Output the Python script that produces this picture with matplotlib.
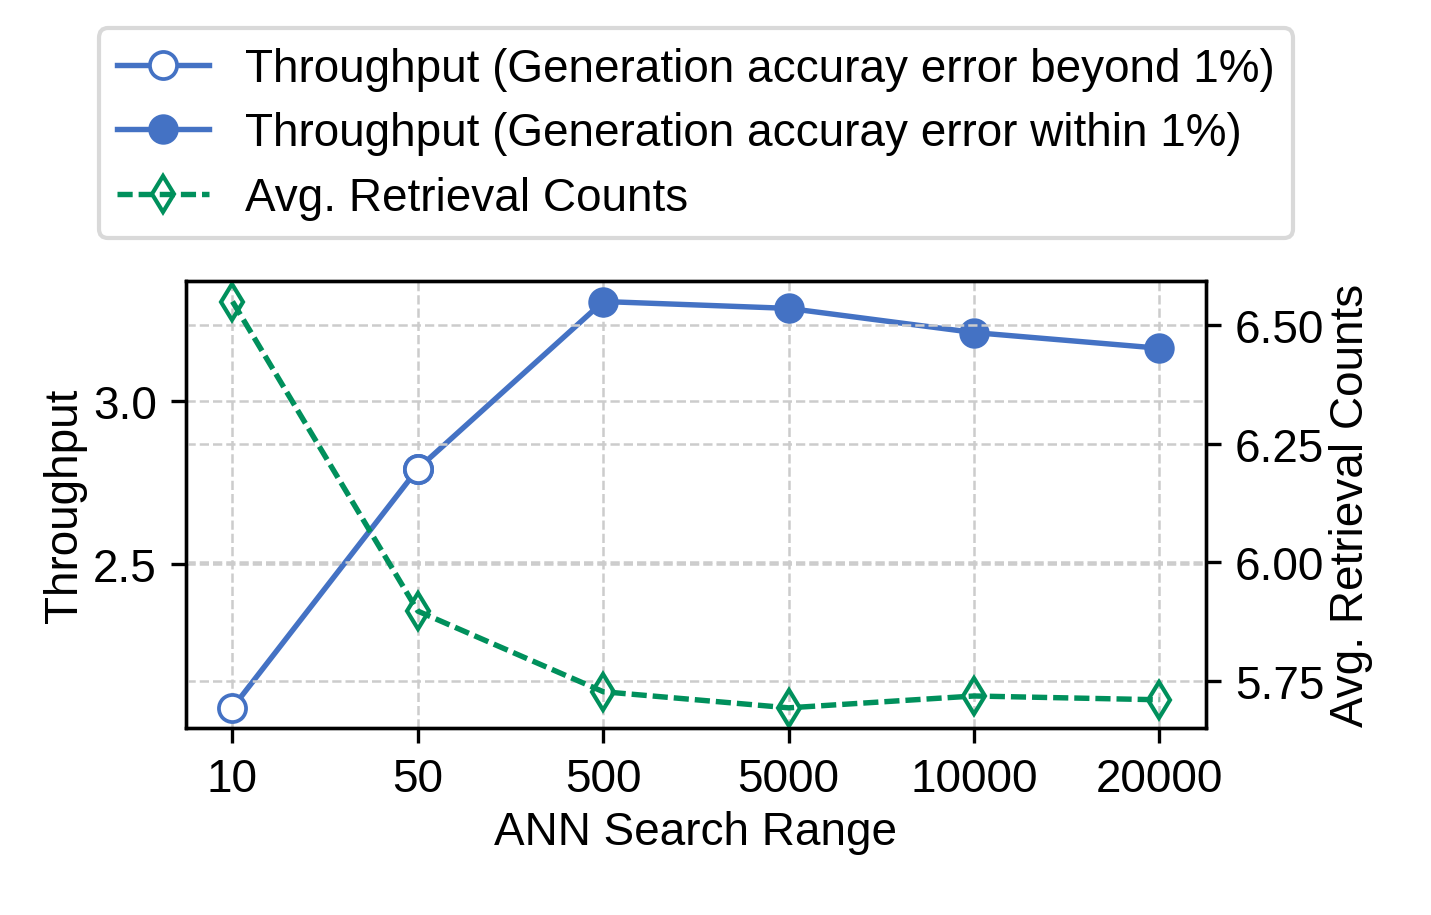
import matplotlib
matplotlib.use("Agg")
import matplotlib.pyplot as plt

plt.rcParams["font.family"] = ["Liberation Sans", "DejaVu Sans"]
plt.rcParams["font.size"] = 11

search_range = ["10", "50", "500", "5000", "10000", "20000"]
throughput = [2.061, 2.793, 3.305, 3.284, 3.210, 3.162]
retrieval_counts = [6.550, 5.897, 5.727, 5.693, 5.718, 5.710]

blue = "#4472C4"
green = "#00905C"

x = list(range(len(search_range)))

fig = plt.figure(figsize=(4.773, 3.053), dpi=300)
ax = fig.add_axes([0.130, 0.204, 0.712, 0.488])
ax2 = ax.twinx()

l1, = ax.plot(x[:2], throughput[:2], "-o", color=blue, lw=1.3, ms=6.5,
              mfc="white", mec=blue, mew=0.9,
              label="Throughput (Generation accuray error beyond 1%)")
l2, = ax.plot(x[1:], throughput[1:], "-o", color=blue, lw=1.3, ms=6.3,
              label="Throughput (Generation accuray error within 1%)")
# hollow marker at 50 goes on top of the filled line
ax.plot(x[1:2], throughput[1:2], "o", color=blue, ms=6.5, mfc="white",
        mec=blue, mew=0.9, zorder=5)

l3, = ax2.plot(x, retrieval_counts, "--d", color=green, lw=1.3, ms=6.2,
               mfc="none", mec=green, mew=1.0, dashes=(2.8, 1.1),
               label="Avg. Retrieval Counts")

ax.set_xticks(x)
ax.set_xticklabels(search_range)
ax.set_xlabel("ANN Search Range", labelpad=2)
ax.set_ylabel("Throughput", labelpad=1.5)
ax2.set_ylabel("Avg. Retrieval Counts", labelpad=1.2)
ax.set_yticks([2.5, 3.0])
ax2.set_yticks([5.75, 6.0, 6.25, 6.5])
ax.set_xlim(-0.25, 5.25)

for a in (ax, ax2):
    a.grid(True, linestyle="--", color="#cccccc", lw=0.6)
    a.set_axisbelow(True)
    for s in a.spines.values():
        s.set_linewidth(0.8)
ax2.xaxis.grid(False)

fig.legend(handles=[l1, l2, l3], loc="upper center",
           bbox_to_anchor=(0.486, 0.993), fontsize=11, frameon=True,
           fancybox=True, edgecolor="#d0d0d0", handlelength=2.0,
           handletextpad=0.8, borderpad=0.4, labelspacing=0.45)

fig.savefig("out.png", dpi=300)
